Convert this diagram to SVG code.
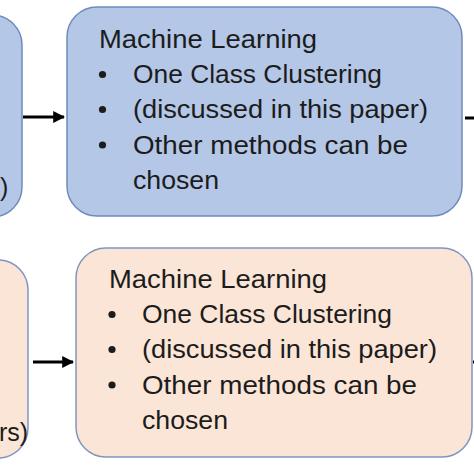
<svg xmlns="http://www.w3.org/2000/svg" width="474" height="474" viewBox="0 0 474 474">
<style>
.blue{fill:#b4c7e7;stroke:#6f8bbd;stroke-width:1.5}
.peach{fill:#fbe5d6;stroke:#7f95c0;stroke-width:1.5}
.t{font-family:"Liberation Sans",Arial,sans-serif;font-size:25px;fill:#1c1c1c}
.b{fill:#1c1c1c}
.c{stroke:#000;stroke-width:3;fill:none}
</style>
<defs>
<marker id="ah" viewBox="0 0 10 10" refX="9" refY="5" markerWidth="4" markerHeight="4" markerUnits="strokeWidth" orient="auto">
<path d="M0,0 L10,5 L0,10 z" fill="#000"/>
</marker>
</defs>
<rect width="474" height="474" fill="#fff"/>
<g id="node-left-top">
<rect class="blue" x="-40" y="15" width="62" height="202" rx="30"/>
<text class="t" x="0" y="196">)</text>
</g>
<g id="node-ml-top">
<rect class="blue" x="67" y="7" width="395" height="209" rx="30"/>
<text class="t" x="99" y="48" textLength="218" lengthAdjust="spacingAndGlyphs">Machine Learning</text>
<circle class="b" cx="102.5" cy="74.5" r="3.6"/>
<text class="t" x="133" y="83" textLength="249" lengthAdjust="spacingAndGlyphs">One Class Clustering</text>
<circle class="b" cx="102.5" cy="109.5" r="3.6"/>
<text class="t" x="133" y="118" textLength="295" lengthAdjust="spacingAndGlyphs">(discussed in this paper)</text>
<circle class="b" cx="102.5" cy="145" r="3.6"/>
<text class="t" x="133" y="154" textLength="275" lengthAdjust="spacingAndGlyphs">Other methods can be</text>
<text class="t" x="133" y="189" textLength="86" lengthAdjust="spacingAndGlyphs">chosen</text>
</g>
<g id="node-left-bottom">
<rect class="peach" x="-40" y="260" width="68" height="198" rx="30"/>
<text class="t" x="-1" y="441">rs)</text>
</g>
<g id="node-ml-bottom">
<rect class="peach" x="76" y="248" width="396" height="209" rx="30"/>
<text class="t" x="109" y="288" textLength="218" lengthAdjust="spacingAndGlyphs">Machine Learning</text>
<circle class="b" cx="112" cy="314.5" r="3.6"/>
<text class="t" x="142" y="323" textLength="250" lengthAdjust="spacingAndGlyphs">One Class Clustering</text>
<circle class="b" cx="112" cy="349.5" r="3.6"/>
<text class="t" x="142" y="358" textLength="295" lengthAdjust="spacingAndGlyphs">(discussed in this paper)</text>
<circle class="b" cx="112" cy="385" r="3.6"/>
<text class="t" x="142" y="394" textLength="275" lengthAdjust="spacingAndGlyphs">Other methods can be</text>
<text class="t" x="142" y="429" textLength="86" lengthAdjust="spacingAndGlyphs">chosen</text>
</g>
<g id="connectors">
<line class="c" x1="23" y1="117" x2="64" y2="117" marker-end="url(#ah)"/>
<line class="c" x1="33" y1="362" x2="73" y2="362" marker-end="url(#ah)"/>
<line class="c" x1="465" y1="118" x2="480" y2="118"/>
<line class="c" x1="473" y1="362" x2="480" y2="362"/>
</g>
</svg>
